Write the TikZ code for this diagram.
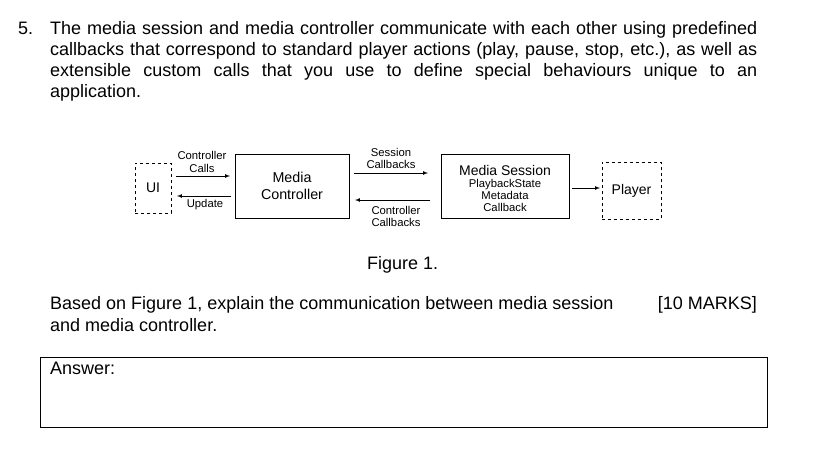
\documentclass[tikz,border=0pt]{standalone}
\usepackage{fontspec}
\setmainfont{Liberation Sans}
\begin{document}
\begin{tikzpicture}[x=1pt,y=-1pt,
  body/.style={font=\fontsize{18}{20}\selectfont,anchor=base west,inner sep=0},
  solidbox/.style={draw,line width=0.7pt,inner sep=0},
  dashbox/.style={draw,dashed,line width=0.7pt,inner sep=0},
  lab/.style={font=\fontsize{11.3}{12.5}\selectfont,align=center,inner sep=0},
  arr/.style={-latex,line width=0.7pt}]
\useasboundingbox (0,0) rectangle (832,458);
\node[body] (n5) at (18,34) {5.};
\node[body] (l1) at (50,34) {\makebox[707pt][s]{The media session and media controller communicate with each other using predefined}};
\node[body] (l2) at (50,55) {\makebox[707pt][s]{callbacks that correspond to standard player actions (play, pause, stop, etc.), as well as}};
\node[body] (l3) at (50,76) {\makebox[707pt][s]{extensible custom calls that you use to define special behaviours unique to an}};
\node[body] (l4) at (50,97) {application.};
% diagram
\node[dashbox,minimum width=36pt,minimum height=50pt] (ui) at (153,188) {};
\node[font=\fontsize{14}{16}\selectfont] (uit) at (ui) {UI};
\node[solidbox,minimum width=114pt,minimum height=64pt] (mc) at (292,186) {};
\node[font=\fontsize{14.3}{16.5}\selectfont,align=center] (mct) at (mc) {Media\\Controller};
\node[solidbox,minimum width=128pt,minimum height=64pt] (ms) at (505,186) {};
\node[align=center,inner sep=0] (mst) at (505,188) {{\fontsize{14}{15}\selectfont Media Session}\\[0pt]{\fontsize{11.3}{14}\selectfont PlaybackState}\\{\fontsize{11.3}{14}\selectfont Metadata}\\{\fontsize{11.3}{14}\selectfont Callback}};
\node[dashbox,minimum width=59pt,minimum height=57pt] (pl) at (631.5,190.5) {};
\node[font=\fontsize{14}{16}\selectfont] (plt) at (pl) {Player};
\coordinate (a1s) at (176,176); \coordinate (a1e) at (230,176);
\draw[arr] (a1s) -- (a1e);
\node[lab] (cc) at (202,162) {Controller\\Calls};
\coordinate (a2s) at (231,196); \coordinate (a2e) at (177,196);
\draw[arr] (a2s) -- (a2e);
\node[lab] (up) at (205,205) {Update};
\coordinate (a3s) at (354,173); \coordinate (a3e) at (428,173);
\draw[arr] (a3s) -- (a3e);
\node[lab] (sc) at (391,158.5) {Session\\Callbacks};
\coordinate (a4s) at (430,200); \coordinate (a4e) at (355,200);
\draw[arr] (a4s) -- (a4e);
\node[lab] (ccb) at (396,216.5) {Controller\\Callbacks};
\coordinate (a5s) at (572,188); \coordinate (a5e) at (600,188);
\draw[arr] (a5s) -- (a5e);
\node[body] (fig) at (367,269) {Figure 1.};
\node[body] (q1) at (50,309) {Based on Figure 1, explain the communication between media session};
\node[body,anchor=base east] (mk) at (757,309) {[10 MARKS]};
\node[body] (q2) at (50,331) {and media controller.};
\node[draw,line width=0.7pt,minimum width=727pt,minimum height=70pt,inner sep=0] (ans) at (403.5,392) {};
\node[body] (at) at (50,374) {Answer:};
\end{tikzpicture}
\end{document}
